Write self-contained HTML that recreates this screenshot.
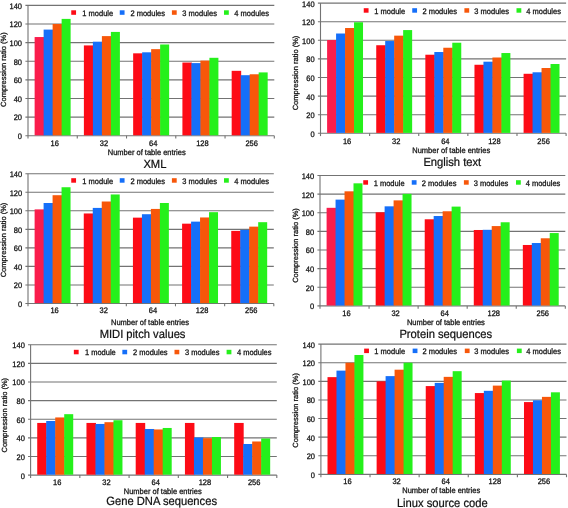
<!DOCTYPE html>
<html><head><meta charset="utf-8"><title>Compression ratio charts</title>
<style>
html,body{margin:0;padding:0;background:#fff;}
body{width:568px;height:508px;overflow:hidden;}
svg{display:block;font-family:'Liberation Sans', Arial, Helvetica, sans-serif;text-rendering:geometricPrecision;}
</style></head>
<body>
<svg width="568" height="508" viewBox="0 0 568 508">
<rect width="568" height="508" fill="#fff"/>
<g stroke="#737373" stroke-width="1.1" fill="none"><line x1="25.4" y1="117.09" x2="274.3" y2="117.09"/><line x1="25.4" y1="98.47" x2="274.3" y2="98.47"/><line x1="25.4" y1="79.86" x2="274.3" y2="79.86"/><line x1="25.4" y1="61.24" x2="274.3" y2="61.24"/><line x1="25.4" y1="42.63" x2="274.3" y2="42.63"/><line x1="25.4" y1="24.01" x2="274.3" y2="24.01"/><line x1="25.4" y1="5.4" x2="274.3" y2="5.4"/><line x1="25.4" y1="135.7" x2="274.3" y2="135.7"/><line x1="28" y1="5.4" x2="28" y2="138.5"/><line x1="77.26" y1="135.7" x2="77.26" y2="138.5"/><line x1="126.52" y1="135.7" x2="126.52" y2="138.5"/><line x1="175.78" y1="135.7" x2="175.78" y2="138.5"/><line x1="225.04" y1="135.7" x2="225.04" y2="138.5"/><line x1="274.3" y1="135.7" x2="274.3" y2="138.5"/></g>
<g><rect x="34.63" y="37.04" width="9.5" height="98.26" fill="#fa1d4c"/><rect x="43.63" y="29.6" width="9.5" height="105.7" fill="#156ff9"/><rect x="52.63" y="24.01" width="9.5" height="111.29" fill="#f7570a"/><rect x="61.63" y="18.9" width="9" height="116.4" fill="#25f01b"/><rect x="83.89" y="45.42" width="9.5" height="89.88" fill="#fd0b16"/><rect x="92.89" y="41.7" width="9.5" height="93.6" fill="#156ff9"/><rect x="101.89" y="36.11" width="9.5" height="99.19" fill="#f7570a"/><rect x="110.89" y="31.93" width="9" height="103.37" fill="#25f01b"/><rect x="133.15" y="53.33" width="9.5" height="81.97" fill="#fd0b16"/><rect x="142.15" y="52.31" width="9.5" height="82.99" fill="#156ff9"/><rect x="151.15" y="49.14" width="9.5" height="86.16" fill="#f7570a"/><rect x="160.15" y="44.49" width="9" height="90.81" fill="#25f01b"/><rect x="182.41" y="62.55" width="9.5" height="72.75" fill="#fd0b16"/><rect x="191.41" y="63.1" width="9.5" height="72.2" fill="#156ff9"/><rect x="200.41" y="60.59" width="9.5" height="74.71" fill="#f7570a"/><rect x="209.41" y="57.8" width="9" height="77.5" fill="#25f01b"/><rect x="231.67" y="70.83" width="9.5" height="64.47" fill="#fd0b16"/><rect x="240.67" y="75.2" width="9.5" height="60.1" fill="#156ff9"/><rect x="249.67" y="74.27" width="9.5" height="61.03" fill="#f7570a"/><rect x="258.67" y="72.41" width="9" height="62.89" fill="#25f01b"/></g>
<rect x="71.25" y="10.3" width="4.8" height="4.5" fill="#fd0b16"/>
<rect x="119.75" y="10.3" width="4.8" height="4.5" fill="#156ff9"/>
<rect x="171.9" y="10.3" width="4.8" height="4.5" fill="#f7570a"/>
<rect x="224" y="10.3" width="4.8" height="4.5" fill="#25f01b"/>
<g font-size="7.5" fill="#111111" stroke="#111111" stroke-width="0.26"><text transform="translate(22 139.1) scale(1 1.06)" text-anchor="end">0</text><text transform="translate(22 120.49) scale(1 1.06)" text-anchor="end">20</text><text transform="translate(22 101.87) scale(1 1.06)" text-anchor="end">40</text><text transform="translate(22 83.26) scale(1 1.06)" text-anchor="end">60</text><text transform="translate(22 64.64) scale(1 1.06)" text-anchor="end">80</text><text transform="translate(22 46.03) scale(1 1.06)" text-anchor="end">100</text><text transform="translate(22 27.41) scale(1 1.06)" text-anchor="end">120</text><text transform="translate(22 8.8) scale(1 1.06)" text-anchor="end">140</text><text transform="translate(54.63 145.5) scale(1 1.06)" text-anchor="middle">16</text><text transform="translate(103.89 145.5) scale(1 1.06)" text-anchor="middle">32</text><text transform="translate(153.15 145.5) scale(1 1.06)" text-anchor="middle">64</text><text transform="translate(202.41 145.5) scale(1 1.06)" text-anchor="middle">128</text><text transform="translate(251.67 145.5) scale(1 1.06)" text-anchor="middle">256</text><text transform="translate(82.3 15.8) scale(1 1.06)">1 module</text><text transform="translate(130.4 15.8) scale(1 1.06)">2 modules</text><text transform="translate(182.3 15.8) scale(1 1.06)">3 modules</text><text transform="translate(234.3 15.8) scale(1 1.06)">4 modules</text><text transform="translate(107.75 155.2) scale(1 1.06)">Number of table entries</text><text transform="translate(5.9 69.65) rotate(-90)" text-anchor="middle">Compression ratio (%)</text></g>
<g font-size="11.2" fill="#111111" stroke="#111111" stroke-width="0.22"><text transform="translate(143.4 168) scale(1 1.07)">XML</text></g>
<g stroke="#737373" stroke-width="1.1" fill="none"><line x1="317.9" y1="114.7" x2="566.1" y2="114.7"/><line x1="317.9" y1="96.1" x2="566.1" y2="96.1"/><line x1="317.9" y1="77.5" x2="566.1" y2="77.5"/><line x1="317.9" y1="58.9" x2="566.1" y2="58.9"/><line x1="317.9" y1="40.3" x2="566.1" y2="40.3"/><line x1="317.9" y1="21.7" x2="566.1" y2="21.7"/><line x1="317.9" y1="3.1" x2="566.1" y2="3.1"/><line x1="317.9" y1="133.3" x2="566.1" y2="133.3"/><line x1="320.5" y1="3.1" x2="320.5" y2="136.1"/><line x1="369.62" y1="133.3" x2="369.62" y2="136.1"/><line x1="418.74" y1="133.3" x2="418.74" y2="136.1"/><line x1="467.86" y1="133.3" x2="467.86" y2="136.1"/><line x1="516.98" y1="133.3" x2="516.98" y2="136.1"/><line x1="566.1" y1="133.3" x2="566.1" y2="136.1"/></g>
<g><rect x="327.11" y="40.02" width="9.48" height="92.88" fill="#fa1d4c"/><rect x="336.08" y="33.51" width="9.48" height="99.39" fill="#156ff9"/><rect x="345.06" y="28.02" width="9.48" height="104.88" fill="#f7570a"/><rect x="354.04" y="22.26" width="8.98" height="110.64" fill="#25f01b"/><rect x="376.23" y="45.23" width="9.48" height="87.67" fill="#fd0b16"/><rect x="385.2" y="41.04" width="9.48" height="91.86" fill="#156ff9"/><rect x="394.18" y="35.65" width="9.48" height="97.25" fill="#f7570a"/><rect x="403.16" y="30.07" width="8.98" height="102.83" fill="#25f01b"/><rect x="425.35" y="54.72" width="9.48" height="78.19" fill="#fd0b16"/><rect x="434.32" y="52.02" width="9.48" height="80.88" fill="#156ff9"/><rect x="443.3" y="47.74" width="9.48" height="85.16" fill="#f7570a"/><rect x="452.28" y="42.72" width="8.98" height="90.18" fill="#25f01b"/><rect x="474.47" y="64.76" width="9.48" height="68.14" fill="#fd0b16"/><rect x="483.44" y="61.69" width="9.48" height="71.21" fill="#156ff9"/><rect x="492.42" y="57.5" width="9.48" height="75.4" fill="#f7570a"/><rect x="501.4" y="53.04" width="8.98" height="79.86" fill="#25f01b"/><rect x="523.59" y="73.78" width="9.48" height="59.12" fill="#fd0b16"/><rect x="532.56" y="72.29" width="9.48" height="60.61" fill="#156ff9"/><rect x="541.54" y="68.01" width="9.48" height="64.89" fill="#f7570a"/><rect x="550.52" y="64.02" width="8.98" height="68.89" fill="#25f01b"/></g>
<rect x="363.75" y="8.2" width="4.8" height="4.5" fill="#fd0b16"/>
<rect x="412.25" y="8.2" width="4.8" height="4.5" fill="#156ff9"/>
<rect x="464.4" y="8.2" width="4.8" height="4.5" fill="#f7570a"/>
<rect x="516.5" y="8.2" width="4.8" height="4.5" fill="#25f01b"/>
<g font-size="7.5" fill="#111111" stroke="#111111" stroke-width="0.26"><text transform="translate(314.6 136.7) scale(1 1.06)" text-anchor="end">0</text><text transform="translate(314.6 118.1) scale(1 1.06)" text-anchor="end">20</text><text transform="translate(314.6 99.5) scale(1 1.06)" text-anchor="end">40</text><text transform="translate(314.6 80.9) scale(1 1.06)" text-anchor="end">60</text><text transform="translate(314.6 62.3) scale(1 1.06)" text-anchor="end">80</text><text transform="translate(314.6 43.7) scale(1 1.06)" text-anchor="end">100</text><text transform="translate(314.6 25.1) scale(1 1.06)" text-anchor="end">120</text><text transform="translate(314.6 6.5) scale(1 1.06)" text-anchor="end">140</text><text transform="translate(347.06 143.8) scale(1 1.06)" text-anchor="middle">16</text><text transform="translate(396.18 143.8) scale(1 1.06)" text-anchor="middle">32</text><text transform="translate(445.3 143.8) scale(1 1.06)" text-anchor="middle">64</text><text transform="translate(494.42 143.8) scale(1 1.06)" text-anchor="middle">128</text><text transform="translate(543.54 143.8) scale(1 1.06)" text-anchor="middle">256</text><text transform="translate(374.3 13.7) scale(1 1.06)">1 module</text><text transform="translate(422.4 13.7) scale(1 1.06)">2 modules</text><text transform="translate(474.3 13.7) scale(1 1.06)">3 modules</text><text transform="translate(526.3 13.7) scale(1 1.06)">4 modules</text><text transform="translate(412.25 153.2) scale(1 1.06)">Number of table entries</text><text transform="translate(297.9 73) rotate(-90)" text-anchor="middle">Compression ratio (%)</text></g>
<g font-size="11.2" fill="#111111" stroke="#111111" stroke-width="0.22"><text transform="translate(423.4 165.75) scale(1 1.07)">English text</text></g>
<g stroke="#737373" stroke-width="1.1" fill="none"><line x1="25.4" y1="284.96" x2="273.8" y2="284.96"/><line x1="25.4" y1="266.41" x2="273.8" y2="266.41"/><line x1="25.4" y1="247.87" x2="273.8" y2="247.87"/><line x1="25.4" y1="229.33" x2="273.8" y2="229.33"/><line x1="25.4" y1="210.79" x2="273.8" y2="210.79"/><line x1="25.4" y1="192.24" x2="273.8" y2="192.24"/><line x1="25.4" y1="173.7" x2="273.8" y2="173.7"/><line x1="25.4" y1="303.5" x2="273.8" y2="303.5"/><line x1="28" y1="173.7" x2="28" y2="306.3"/><line x1="77.16" y1="303.5" x2="77.16" y2="306.3"/><line x1="126.32" y1="303.5" x2="126.32" y2="306.3"/><line x1="175.48" y1="303.5" x2="175.48" y2="306.3"/><line x1="224.64" y1="303.5" x2="224.64" y2="306.3"/><line x1="273.8" y1="303.5" x2="273.8" y2="306.3"/></g>
<g><rect x="34.61" y="209.39" width="9.48" height="93.71" fill="#fa1d4c"/><rect x="43.6" y="203" width="9.48" height="100.1" fill="#156ff9"/><rect x="52.58" y="195.21" width="9.48" height="107.89" fill="#f7570a"/><rect x="61.56" y="187.24" width="8.98" height="115.86" fill="#25f01b"/><rect x="83.77" y="213.47" width="9.48" height="89.63" fill="#fd0b16"/><rect x="92.76" y="207.91" width="9.48" height="95.19" fill="#156ff9"/><rect x="101.74" y="201.51" width="9.48" height="101.59" fill="#f7570a"/><rect x="110.72" y="194.47" width="8.98" height="108.63" fill="#25f01b"/><rect x="132.93" y="217.65" width="9.48" height="85.45" fill="#fd0b16"/><rect x="141.92" y="214.22" width="9.48" height="88.88" fill="#156ff9"/><rect x="150.9" y="208.93" width="9.48" height="94.17" fill="#f7570a"/><rect x="159.88" y="203" width="8.98" height="100.1" fill="#25f01b"/><rect x="182.09" y="223.67" width="9.48" height="79.43" fill="#fd0b16"/><rect x="191.08" y="221.63" width="9.48" height="81.47" fill="#156ff9"/><rect x="200.06" y="217.46" width="9.48" height="85.64" fill="#f7570a"/><rect x="209.04" y="212.18" width="8.98" height="90.92" fill="#25f01b"/><rect x="231.25" y="230.9" width="9.48" height="72.2" fill="#fd0b16"/><rect x="240.24" y="229.88" width="9.48" height="73.22" fill="#156ff9"/><rect x="249.22" y="226.64" width="9.48" height="76.46" fill="#f7570a"/><rect x="258.2" y="222.19" width="8.98" height="80.91" fill="#25f01b"/></g>
<rect x="71.25" y="178.2" width="4.8" height="4.5" fill="#fd0b16"/>
<rect x="119.75" y="178.2" width="4.8" height="4.5" fill="#156ff9"/>
<rect x="171.9" y="178.2" width="4.8" height="4.5" fill="#f7570a"/>
<rect x="224" y="178.2" width="4.8" height="4.5" fill="#25f01b"/>
<g font-size="7.5" fill="#111111" stroke="#111111" stroke-width="0.26"><text transform="translate(22.2 306.9) scale(1 1.06)" text-anchor="end">0</text><text transform="translate(22.2 288.36) scale(1 1.06)" text-anchor="end">20</text><text transform="translate(22.2 269.81) scale(1 1.06)" text-anchor="end">40</text><text transform="translate(22.2 251.27) scale(1 1.06)" text-anchor="end">60</text><text transform="translate(22.2 232.73) scale(1 1.06)" text-anchor="end">80</text><text transform="translate(22.2 214.19) scale(1 1.06)" text-anchor="end">100</text><text transform="translate(22.2 195.64) scale(1 1.06)" text-anchor="end">120</text><text transform="translate(22.2 177.1) scale(1 1.06)" text-anchor="end">140</text><text transform="translate(54.58 313.3) scale(1 1.06)" text-anchor="middle">16</text><text transform="translate(103.74 313.3) scale(1 1.06)" text-anchor="middle">32</text><text transform="translate(152.9 313.3) scale(1 1.06)" text-anchor="middle">64</text><text transform="translate(202.06 313.3) scale(1 1.06)" text-anchor="middle">128</text><text transform="translate(251.22 313.3) scale(1 1.06)" text-anchor="middle">256</text><text transform="translate(82.3 183.6) scale(1 1.06)">1 module</text><text transform="translate(130.4 183.6) scale(1 1.06)">2 modules</text><text transform="translate(182.3 183.6) scale(1 1.06)">3 modules</text><text transform="translate(234.3 183.6) scale(1 1.06)">4 modules</text><text transform="translate(111 324.95) scale(1 1.06)">Number of table entries</text><text transform="translate(5.5 240) rotate(-90)" text-anchor="middle">Compression ratio (%)</text></g>
<g font-size="11.2" fill="#111111" stroke="#111111" stroke-width="0.22"><text transform="translate(99.65 337.5) scale(1 1.07)">MIDI pitch values</text></g>
<g stroke="#737373" stroke-width="1.1" fill="none"><line x1="317.4" y1="287.27" x2="565.3" y2="287.27"/><line x1="317.4" y1="268.64" x2="565.3" y2="268.64"/><line x1="317.4" y1="250.01" x2="565.3" y2="250.01"/><line x1="317.4" y1="231.39" x2="565.3" y2="231.39"/><line x1="317.4" y1="212.76" x2="565.3" y2="212.76"/><line x1="317.4" y1="194.13" x2="565.3" y2="194.13"/><line x1="317.4" y1="175.5" x2="565.3" y2="175.5"/><line x1="317.4" y1="305.9" x2="565.3" y2="305.9"/><line x1="320" y1="175.5" x2="320" y2="308.7"/><line x1="369.06" y1="305.9" x2="369.06" y2="308.7"/><line x1="418.12" y1="305.9" x2="418.12" y2="308.7"/><line x1="467.18" y1="305.9" x2="467.18" y2="308.7"/><line x1="516.24" y1="305.9" x2="516.24" y2="308.7"/><line x1="565.3" y1="305.9" x2="565.3" y2="308.7"/></g>
<g><rect x="326.6" y="207.82" width="9.47" height="97.68" fill="#fa1d4c"/><rect x="335.56" y="199.62" width="9.47" height="105.88" fill="#156ff9"/><rect x="344.53" y="191.33" width="9.47" height="114.17" fill="#f7570a"/><rect x="353.5" y="183.32" width="8.97" height="122.18" fill="#25f01b"/><rect x="375.66" y="212.29" width="9.47" height="93.21" fill="#fd0b16"/><rect x="384.62" y="206.33" width="9.47" height="99.17" fill="#156ff9"/><rect x="393.59" y="200.37" width="9.47" height="105.13" fill="#f7570a"/><rect x="402.56" y="193.85" width="8.97" height="111.65" fill="#25f01b"/><rect x="424.72" y="219.28" width="9.47" height="86.22" fill="#fd0b16"/><rect x="433.68" y="216.02" width="9.47" height="89.48" fill="#156ff9"/><rect x="442.65" y="211.27" width="9.47" height="94.23" fill="#f7570a"/><rect x="451.62" y="206.61" width="8.97" height="98.89" fill="#25f01b"/><rect x="473.78" y="229.99" width="9.47" height="75.51" fill="#fd0b16"/><rect x="482.74" y="229.8" width="9.47" height="75.7" fill="#156ff9"/><rect x="491.71" y="226.08" width="9.47" height="79.42" fill="#f7570a"/><rect x="500.68" y="222.26" width="8.97" height="83.24" fill="#25f01b"/><rect x="522.84" y="244.98" width="9.47" height="60.52" fill="#fd0b16"/><rect x="531.8" y="243.03" width="9.47" height="62.47" fill="#156ff9"/><rect x="540.77" y="238.28" width="9.47" height="67.22" fill="#f7570a"/><rect x="549.74" y="233.06" width="8.97" height="72.44" fill="#25f01b"/></g>
<rect x="363.25" y="180.2" width="4.8" height="4.5" fill="#fd0b16"/>
<rect x="411.75" y="180.2" width="4.8" height="4.5" fill="#156ff9"/>
<rect x="463.9" y="180.2" width="4.8" height="4.5" fill="#f7570a"/>
<rect x="516" y="180.2" width="4.8" height="4.5" fill="#25f01b"/>
<g font-size="7.5" fill="#111111" stroke="#111111" stroke-width="0.26"><text transform="translate(314.2 309.3) scale(1 1.06)" text-anchor="end">0</text><text transform="translate(314.2 290.67) scale(1 1.06)" text-anchor="end">20</text><text transform="translate(314.2 272.04) scale(1 1.06)" text-anchor="end">40</text><text transform="translate(314.2 253.41) scale(1 1.06)" text-anchor="end">60</text><text transform="translate(314.2 234.79) scale(1 1.06)" text-anchor="end">80</text><text transform="translate(314.2 216.16) scale(1 1.06)" text-anchor="end">100</text><text transform="translate(314.2 197.53) scale(1 1.06)" text-anchor="end">120</text><text transform="translate(314.2 178.9) scale(1 1.06)" text-anchor="end">140</text><text transform="translate(346.53 315.7) scale(1 1.06)" text-anchor="middle">16</text><text transform="translate(395.59 315.7) scale(1 1.06)" text-anchor="middle">32</text><text transform="translate(444.65 315.7) scale(1 1.06)" text-anchor="middle">64</text><text transform="translate(493.71 315.7) scale(1 1.06)" text-anchor="middle">128</text><text transform="translate(542.77 315.7) scale(1 1.06)" text-anchor="middle">256</text><text transform="translate(373.7 185.6) scale(1 1.06)">1 module</text><text transform="translate(421.8 185.6) scale(1 1.06)">2 modules</text><text transform="translate(473.7 185.6) scale(1 1.06)">3 modules</text><text transform="translate(525.7 185.6) scale(1 1.06)">4 modules</text><text transform="translate(406.9 325.2) scale(1 1.06)">Number of table entries</text><text transform="translate(297.9 245.5) rotate(-90)" text-anchor="middle">Compression ratio (%)</text></g>
<g font-size="11.2" fill="#111111" stroke="#111111" stroke-width="0.22"><text transform="translate(399.4 337.6) scale(1 1.07)">Protein sequences</text></g>
<g stroke="#737373" stroke-width="1.1" fill="none"><line x1="28" y1="456.47" x2="276.8" y2="456.47"/><line x1="28" y1="437.84" x2="276.8" y2="437.84"/><line x1="28" y1="419.21" x2="276.8" y2="419.21"/><line x1="28" y1="400.59" x2="276.8" y2="400.59"/><line x1="28" y1="381.96" x2="276.8" y2="381.96"/><line x1="28" y1="363.33" x2="276.8" y2="363.33"/><line x1="28" y1="344.7" x2="276.8" y2="344.7"/><line x1="28" y1="475.1" x2="276.8" y2="475.1"/><line x1="30.6" y1="344.7" x2="30.6" y2="477.9"/><line x1="79.84" y1="475.1" x2="79.84" y2="477.9"/><line x1="129.08" y1="475.1" x2="129.08" y2="477.9"/><line x1="178.32" y1="475.1" x2="178.32" y2="477.9"/><line x1="227.56" y1="475.1" x2="227.56" y2="477.9"/><line x1="276.8" y1="475.1" x2="276.8" y2="477.9"/></g>
<g><rect x="37.22" y="422.94" width="9.5" height="51.76" fill="#fd0b16"/><rect x="46.22" y="420.98" width="9.5" height="53.72" fill="#156ff9"/><rect x="55.22" y="417.44" width="9.5" height="57.26" fill="#f7570a"/><rect x="64.22" y="414.18" width="9" height="60.52" fill="#25f01b"/><rect x="86.46" y="422.94" width="9.5" height="51.76" fill="#fd0b16"/><rect x="95.46" y="423.96" width="9.5" height="50.74" fill="#156ff9"/><rect x="104.46" y="422.19" width="9.5" height="52.51" fill="#f7570a"/><rect x="113.46" y="420.24" width="9" height="54.46" fill="#25f01b"/><rect x="135.7" y="422.94" width="9.5" height="51.76" fill="#fd0b16"/><rect x="144.7" y="428.99" width="9.5" height="45.71" fill="#156ff9"/><rect x="153.7" y="429.46" width="9.5" height="45.24" fill="#f7570a"/><rect x="162.7" y="427.97" width="9" height="46.73" fill="#25f01b"/><rect x="184.94" y="422.94" width="9.5" height="51.76" fill="#fd0b16"/><rect x="193.94" y="437.47" width="9.5" height="37.23" fill="#156ff9"/><rect x="202.94" y="438.22" width="9.5" height="36.48" fill="#f7570a"/><rect x="211.94" y="437" width="9" height="37.7" fill="#25f01b"/><rect x="234.18" y="422.94" width="9.5" height="51.76" fill="#fd0b16"/><rect x="243.18" y="443.99" width="9.5" height="30.71" fill="#156ff9"/><rect x="252.18" y="441.48" width="9.5" height="33.22" fill="#f7570a"/><rect x="261.18" y="438.49" width="9" height="36.21" fill="#25f01b"/></g>
<rect x="73.85" y="349.8" width="4.8" height="4.5" fill="#fd0b16"/>
<rect x="122.35" y="349.8" width="4.8" height="4.5" fill="#156ff9"/>
<rect x="174.5" y="349.8" width="4.8" height="4.5" fill="#f7570a"/>
<rect x="226.6" y="349.8" width="4.8" height="4.5" fill="#25f01b"/>
<g font-size="7.5" fill="#111111" stroke="#111111" stroke-width="0.26"><text transform="translate(24.8 478.5) scale(1 1.06)" text-anchor="end">0</text><text transform="translate(24.8 459.87) scale(1 1.06)" text-anchor="end">20</text><text transform="translate(24.8 441.24) scale(1 1.06)" text-anchor="end">40</text><text transform="translate(24.8 422.61) scale(1 1.06)" text-anchor="end">60</text><text transform="translate(24.8 403.99) scale(1 1.06)" text-anchor="end">80</text><text transform="translate(24.8 385.36) scale(1 1.06)" text-anchor="end">100</text><text transform="translate(24.8 366.73) scale(1 1.06)" text-anchor="end">120</text><text transform="translate(24.8 348.1) scale(1 1.06)" text-anchor="end">140</text><text transform="translate(57.22 484.9) scale(1 1.06)" text-anchor="middle">16</text><text transform="translate(106.46 484.9) scale(1 1.06)" text-anchor="middle">32</text><text transform="translate(155.7 484.9) scale(1 1.06)" text-anchor="middle">64</text><text transform="translate(204.94 484.9) scale(1 1.06)" text-anchor="middle">128</text><text transform="translate(254.18 484.9) scale(1 1.06)" text-anchor="middle">256</text><text transform="translate(84.9 354.95) scale(1 1.06)">1 module</text><text transform="translate(133 354.95) scale(1 1.06)">2 modules</text><text transform="translate(184.9 354.95) scale(1 1.06)">3 modules</text><text transform="translate(236.9 354.95) scale(1 1.06)">4 modules</text><text transform="translate(123.75 494.3) scale(1 1.06)">Number of table entries</text><text transform="translate(6.8 415.2) rotate(-90)" text-anchor="middle">Compression ratio (%)</text></g>
<g font-size="11.2" fill="#111111" stroke="#111111" stroke-width="0.22"><text transform="translate(106.3 505.25) scale(1 1.07)">Gene DNA sequences</text></g>
<g stroke="#737373" stroke-width="1.1" fill="none"><line x1="318.3" y1="455.79" x2="566.5" y2="455.79"/><line x1="318.3" y1="437.17" x2="566.5" y2="437.17"/><line x1="318.3" y1="418.56" x2="566.5" y2="418.56"/><line x1="318.3" y1="399.94" x2="566.5" y2="399.94"/><line x1="318.3" y1="381.33" x2="566.5" y2="381.33"/><line x1="318.3" y1="362.71" x2="566.5" y2="362.71"/><line x1="318.3" y1="344.1" x2="566.5" y2="344.1"/><line x1="318.3" y1="474.4" x2="566.5" y2="474.4"/><line x1="320.9" y1="344.1" x2="320.9" y2="477.2"/><line x1="370.02" y1="474.4" x2="370.02" y2="477.2"/><line x1="419.14" y1="474.4" x2="419.14" y2="477.2"/><line x1="468.26" y1="474.4" x2="468.26" y2="477.2"/><line x1="517.38" y1="474.4" x2="517.38" y2="477.2"/><line x1="566.5" y1="474.4" x2="566.5" y2="477.2"/></g>
<g><rect x="327.51" y="377.14" width="9.48" height="96.86" fill="#fd0b16"/><rect x="336.48" y="370.63" width="9.48" height="103.37" fill="#156ff9"/><rect x="345.46" y="362.71" width="9.48" height="111.29" fill="#f7570a"/><rect x="354.44" y="354.99" width="8.98" height="119.01" fill="#25f01b"/><rect x="376.63" y="381.33" width="9.48" height="92.67" fill="#fd0b16"/><rect x="385.6" y="376.12" width="9.48" height="97.88" fill="#156ff9"/><rect x="394.58" y="369.69" width="9.48" height="104.31" fill="#f7570a"/><rect x="403.56" y="362.71" width="8.98" height="111.29" fill="#25f01b"/><rect x="425.75" y="386.08" width="9.48" height="87.92" fill="#fd0b16"/><rect x="434.72" y="382.91" width="9.48" height="91.09" fill="#156ff9"/><rect x="443.7" y="376.86" width="9.48" height="97.14" fill="#f7570a"/><rect x="452.68" y="371.18" width="8.98" height="102.82" fill="#25f01b"/><rect x="474.87" y="393.06" width="9.48" height="80.94" fill="#fd0b16"/><rect x="483.84" y="390.82" width="9.48" height="83.18" fill="#156ff9"/><rect x="492.82" y="385.61" width="9.48" height="88.39" fill="#f7570a"/><rect x="501.8" y="380.58" width="8.98" height="93.42" fill="#25f01b"/><rect x="523.99" y="402.08" width="9.48" height="71.92" fill="#fd0b16"/><rect x="532.96" y="400.32" width="9.48" height="73.68" fill="#156ff9"/><rect x="541.94" y="396.87" width="9.48" height="77.13" fill="#f7570a"/><rect x="550.92" y="392.31" width="8.98" height="81.69" fill="#25f01b"/></g>
<rect x="364.15" y="348.6" width="4.8" height="4.5" fill="#fd0b16"/>
<rect x="412.65" y="348.6" width="4.8" height="4.5" fill="#156ff9"/>
<rect x="464.8" y="348.6" width="4.8" height="4.5" fill="#f7570a"/>
<rect x="516.9" y="348.6" width="4.8" height="4.5" fill="#25f01b"/>
<g font-size="7.5" fill="#111111" stroke="#111111" stroke-width="0.26"><text transform="translate(315 477.8) scale(1 1.06)" text-anchor="end">0</text><text transform="translate(315 459.19) scale(1 1.06)" text-anchor="end">20</text><text transform="translate(315 440.57) scale(1 1.06)" text-anchor="end">40</text><text transform="translate(315 421.96) scale(1 1.06)" text-anchor="end">60</text><text transform="translate(315 403.34) scale(1 1.06)" text-anchor="end">80</text><text transform="translate(315 384.73) scale(1 1.06)" text-anchor="end">100</text><text transform="translate(315 366.11) scale(1 1.06)" text-anchor="end">120</text><text transform="translate(315 347.5) scale(1 1.06)" text-anchor="end">140</text><text transform="translate(347.46 484.2) scale(1 1.06)" text-anchor="middle">16</text><text transform="translate(396.58 484.2) scale(1 1.06)" text-anchor="middle">32</text><text transform="translate(445.7 484.2) scale(1 1.06)" text-anchor="middle">64</text><text transform="translate(494.82 484.2) scale(1 1.06)" text-anchor="middle">128</text><text transform="translate(543.94 484.2) scale(1 1.06)" text-anchor="middle">256</text><text transform="translate(374.3 353.95) scale(1 1.06)">1 module</text><text transform="translate(422.4 353.95) scale(1 1.06)">2 modules</text><text transform="translate(474.3 353.95) scale(1 1.06)">3 modules</text><text transform="translate(526.3 353.95) scale(1 1.06)">4 modules</text><text transform="translate(402.25 493.45) scale(1 1.06)">Number of table entries</text><text transform="translate(297.9 410.4) rotate(-90)" text-anchor="middle">Compression ratio (%)</text></g>
<g font-size="11.2" fill="#111111" stroke="#111111" stroke-width="0.22"><text transform="translate(396.9 506.5) scale(1 1.07)">Linux source code</text></g>
</svg>
</body></html>
